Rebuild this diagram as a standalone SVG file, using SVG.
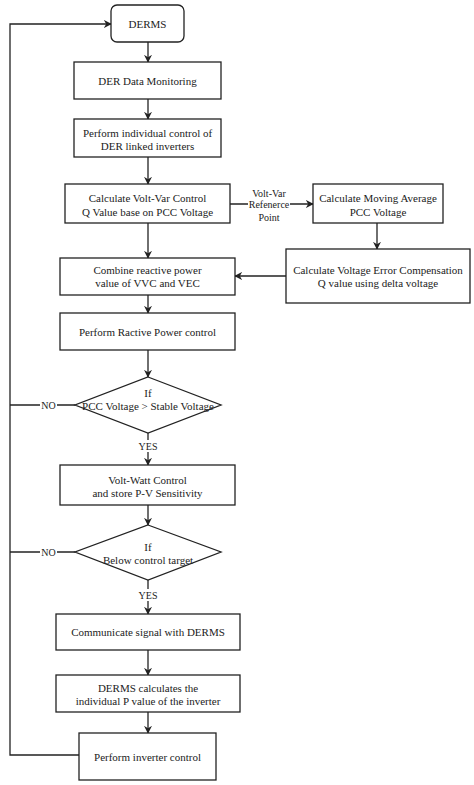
<svg xmlns="http://www.w3.org/2000/svg" width="474" height="785" viewBox="0 0 474 785">
<style>
.b{fill:#fff;stroke:#222;stroke-width:1.3}
.t{font-family:"Liberation Serif","Times New Roman",serif;font-size:11px;fill:#222;text-anchor:middle}
.s{font-family:"Liberation Serif","Times New Roman",serif;font-size:10px;fill:#222;text-anchor:middle}
.c{fill:none;stroke:#222;stroke-width:1.3}
</style>
<defs>
<marker id="a" viewBox="0 0 10 10" refX="9" refY="5" markerWidth="8" markerHeight="8" markerUnits="userSpaceOnUse" orient="auto">
<path d="M0,0 L10,5 L0,10 L3,5 Z" fill="#222"/>
</marker>
</defs>
<rect width="474" height="785" fill="#fff"/>
<g id="connectors">
<path class="c" d="M148,42 V62" marker-end="url(#a)"/>
<path class="c" d="M148,99 V119" marker-end="url(#a)"/>
<path class="c" d="M148,157 V184" marker-end="url(#a)"/>
<path class="c" d="M230,204 H313" marker-end="url(#a)"/>
<path class="c" d="M377,223 V249" marker-end="url(#a)"/>
<path class="c" d="M148,223 V258" marker-end="url(#a)"/>
<path class="c" d="M286,276 H235" marker-end="url(#a)"/>
<path class="c" d="M148,295 V313" marker-end="url(#a)"/>
<path class="c" d="M148,350 V377" marker-end="url(#a)"/>
<path class="c" d="M148,433 V465" marker-end="url(#a)"/>
<path class="c" d="M148,505 V525" marker-end="url(#a)"/>
<path class="c" d="M148,580 V614" marker-end="url(#a)"/>
<path class="c" d="M148,650 V675" marker-end="url(#a)"/>
<path class="c" d="M148,712 V733" marker-end="url(#a)"/>
<path class="c" d="M79,755 H10 V24 H111" marker-end="url(#a)"/>
<path class="c" d="M75,405 H10"/>
<path class="c" d="M75,552 H10"/>
<rect x="248" y="187" width="42" height="36" fill="#fff"/>
<text class="s" x="269" y="196.5">Volt-Var</text>
<text class="s" x="269" y="208">Refenerce</text>
<text class="s" x="269" y="220.5">Point</text>
<rect x="40" y="399" width="17" height="12" fill="#fff"/>
<text class="s" x="48.5" y="408.5">NO</text>
<rect x="40" y="546" width="17" height="12" fill="#fff"/>
<text class="s" x="48.5" y="555.5">NO</text>
<rect x="138" y="440" width="20" height="12" fill="#fff"/>
<text class="s" x="148" y="449.5">YES</text>
<rect x="138" y="589" width="20" height="12" fill="#fff"/>
<text class="s" x="148" y="598.5">YES</text>
</g>
<g id="derms"><rect class="b" x="111" y="5" width="73" height="37" rx="6"/><text class="t" x="147.5" y="28">DERMS</text></g>
<g id="monitoring"><rect class="b" x="74" y="62" width="147" height="37"/><text class="t" x="147.5" y="85">DER Data Monitoring</text></g>
<g id="individual"><rect class="b" x="74" y="119" width="147" height="38"/><text class="t" x="147.5" y="137">Perform individual control of</text><text class="t" x="147.5" y="150">DER linked inverters</text></g>
<g id="vvc"><rect class="b" x="65" y="184" width="165" height="39"/><text class="t" x="147.5" y="202">Calculate Volt-Var Control</text><text class="t" x="147.5" y="216">Q Value base on PCC Voltage</text></g>
<g id="movavg"><rect class="b" x="313" y="184" width="130" height="39"/><text class="t" x="378" y="202">Calculate Moving Average</text><text class="t" x="378" y="216">PCC Voltage</text></g>
<g id="vec"><rect class="b" x="286" y="249" width="184" height="54"/><text class="t" x="378" y="274">Calculate Voltage Error Compensation</text><text class="t" x="378" y="287">Q value using delta voltage</text></g>
<g id="combine"><rect class="b" x="60" y="258" width="175" height="37"/><text class="t" x="147.5" y="274">Combine reactive power</text><text class="t" x="147.5" y="287">value of VVC and VEC</text></g>
<g id="reactive"><rect class="b" x="60" y="313" width="175" height="37"/><text class="t" x="147.5" y="336">Perform Ractive Power control</text></g>
<g id="dec1"><path class="b" d="M148,377 L221,405 L148,433 L75,405 Z"/><text class="t" x="148" y="397">If</text><text class="t" x="148" y="410">PCC Voltage &gt; Stable Voltage</text></g>
<g id="voltwatt"><rect class="b" x="60" y="465" width="175" height="40"/><text class="t" x="147.5" y="484">Volt-Watt Control</text><text class="t" x="147.5" y="497">and store P-V Sensitivity</text></g>
<g id="dec2"><path class="b" d="M148,525 L221,552 L148,580 L75,552 Z"/><text class="t" x="148" y="551">If</text><text class="t" x="148" y="564">Below control target</text></g>
<g id="communicate"><rect class="b" x="56" y="614" width="184" height="36"/><text class="t" x="148" y="636">Communicate signal with DERMS</text></g>
<g id="calcp"><rect class="b" x="56" y="675" width="184" height="37"/><text class="t" x="148" y="692">DERMS calculates the</text><text class="t" x="148" y="705">individual P value of the inverter</text></g>
<g id="inverter"><rect class="b" x="79" y="733" width="137" height="47"/><text class="t" x="147.5" y="761">Perform inverter control</text></g>
</svg>
